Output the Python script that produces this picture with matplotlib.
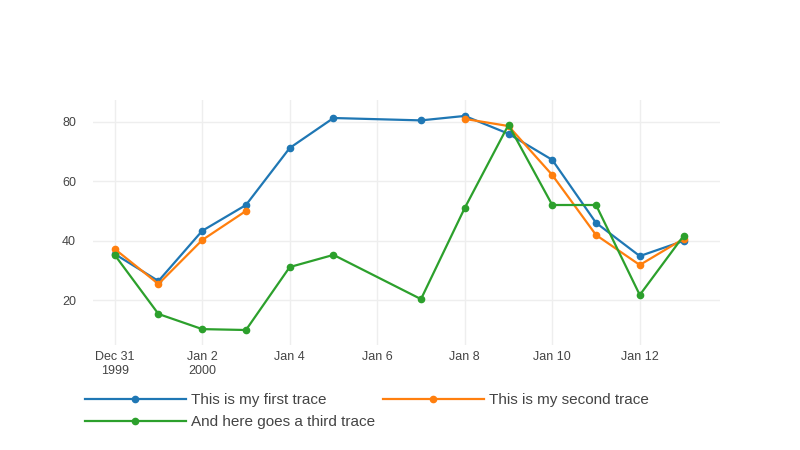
import numpy as np
import matplotlib
matplotlib.use("Agg")
import matplotlib.pyplot as plt
from datetime import datetime, timedelta

plt.rcParams['font.family'] = ['Liberation Sans', 'DejaVu Sans']

dates = ["1999-12-31", "2000-01-01", "2000-01-02", "2000-01-03", "2000-01-04",
         "2000-01-05", "2000-01-07", "2000-01-08", "2000-01-09", "2000-01-10",
         "2000-01-11", "2000-01-12", "2000-01-13"]
first = [35.5, 26.4, 43.3, 52.0, 71.2, 81.3, 80.5, 82.0, 76.0, 67.2, 46.0, 34.8, 39.9]
second = [37.2, 25.4, 40.2, 50.0, np.nan, np.nan, np.nan, 81.0, 78.6, 62.1, 41.9, 31.8, 40.6]
third = [35.2, 15.3, 10.2, 9.9, 31.1, 35.2, 20.3, 51.0, 79.0, 52.0, 52.0, 21.7, 41.6]
names = ["This is my first trace", "This is my second trace", "And here goes a third trace"]
colors = ["#1f77b4", "#ff7f0e", "#2ca02c"]

tick_dates = ["1999-12-31", "2000-01-02", "2000-01-04", "2000-01-06",
              "2000-01-08", "2000-01-10", "2000-01-12"]
tick_labels = ["Dec 31\n1999", "Jan 2\n2000", "Jan 4", "Jan 6", "Jan 8", "Jan 10", "Jan 12"]

x = [datetime.strptime(d, "%Y-%m-%d") for d in dates]
xt = [datetime.strptime(d, "%Y-%m-%d") for d in tick_dates]

fig = plt.figure(figsize=(8, 4.5), dpi=100)
ax = fig.add_axes([0.116, 0.233, 0.784, 0.545])

handles = []
for ys, nm, c in zip([first, second, third], names, colors):
    h, = ax.plot(x, ys, color=c, lw=1.6, marker="o", ms=4.5, label=nm)
    handles.append(h)

ax.set_xlim(x[0] - timedelta(hours=12), x[-1] + timedelta(hours=20))
ax.set_ylim(4.8, 87.4)
ax.set_xticks(xt)
ax.set_xticklabels(tick_labels, linespacing=1.3)
ax.set_yticks([20, 40, 60, 80])
ax.tick_params(length=0, labelsize=9, labelcolor="#444444")
ax.tick_params(axis="x", pad=4)
ax.tick_params(axis="y", pad=12)
ax.grid(True, color="#eeeeee", lw=1)
ax.set_axisbelow(True)
for s in ax.spines.values():
    s.set_visible(False)

fig.legend([handles[0], handles[2], handles[1]],
           [names[0], names[2], names[1]],
           ncol=2, loc="upper left", bbox_to_anchor=(0.106, 0.126),
           frameon=False, fontsize=11, handlelength=6.6, handletextpad=0.35,
           columnspacing=0.5, labelspacing=0.5, labelcolor="#444444",
           borderaxespad=0, borderpad=0)

fig.savefig("out.png", dpi=100)
